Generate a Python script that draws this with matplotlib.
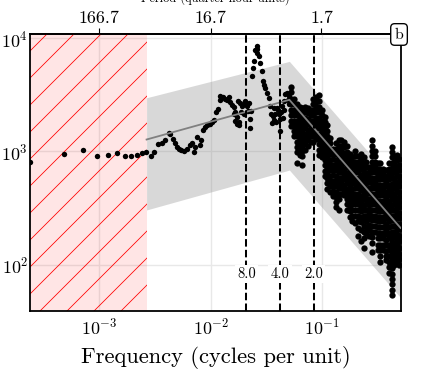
import numpy as np
import matplotlib.pyplot as plt
from matplotlib.ticker import NullLocator

plt.rcParams.update({
    'font.family': 'serif',
    'font.serif': ['cmr10'],
    'mathtext.fontset': 'cm',
    'axes.formatter.use_mathtext': True,
    'axes.unicode_minus': False,
    'hatch.linewidth': 0.35,
})

# periodogram, lowest frequencies (hatched region)
low_freq = [0.00024, 0.00048, 0.00072, 0.00096, 0.0012, 0.00144, 0.00168, 0.00192,
            0.00216, 0.0024, 0.00264, 0.00288, 0.00312, 0.00336]
low_power = [796, 935, 1015, 899, 917, 960, 899, 899, 917, 955, 975, 899, 975, 1145]

# middle frequencies
mid_freq = [0.00368, 0.00389, 0.00417, 0.00432, 0.00462, 0.00479, 0.00496, 0.0052, 0.00542,
            0.00569, 0.0061, 0.00644, 0.00676, 0.007, 0.00724, 0.0075, 0.00791, 0.0082,
            0.00842, 0.00891, 0.00923, 0.00953, 0.00988, 0.01023, 0.01073, 0.01119, 0.01148,
            0.01197, 0.01214, 0.01285, 0.01347, 0.01396, 0.01442, 0.01494, 0.01549, 0.016,
            0.016, 0.01656, 0.01656, 0.01716, 0.01716, 0.01738, 0.01774, 0.01799, 0.01837,
            0.01876, 0.01903, 0.01967, 0.01995, 0.02037, 0.02109, 0.02147, 0.02183, 0.02223,
            0.0226, 0.02291, 0.02339, 0.02371, 0.0242, 0.02506, 0.0257, 0.02594, 0.026,
            0.02685, 0.0278, 0.02878, 0.02917, 0.02972, 0.03083, 0.03191, 0.03296, 0.03367,
            0.03467, 0.0354, 0.036, 0.03656, 0.03715, 0.03793, 0.0387, 0.03926, 0.0399,
            0.04055, 0.0414, 0.04206, 0.04246, 0.04355, 0.04426, 0.04498, 0.0456, 0.04656,
            0.04831, 0.04909, 0.04989, 0.0506]
mid_power = [1183, 1248, 1448, 1429, 1292, 1169, 1091, 1042, 1020,
             1006, 1035, 1129, 1169, 986, 1091, 1335, 1129, 1248,
             1528, 1633, 1690, 1750, 1726, 1807, 1871, 2213, 2371,
             2800, 3097, 2994, 2897, 2800, 2994, 2704, 2533, 2449,
             2113, 2213, 1845, 2000, 1726, 2760, 1807, 1690, 2673,
             2198, 2496, 2582, 2113, 2760, 2496, 2244, 2673, 1592,
             1910, 2259, 4581, 5420, 6194, 7852, 7300, 8414, 8000,
             6855, 5998, 5058, 4140, 3873, 3622, 3273, 2958, 2496,
             2113, 1786, 2027, 2415, 1871, 2113, 1795, 2415, 2291,
             2113, 1507, 1910, 2198, 2496, 1945, 2760, 2291, 3162,
             3273, 2800, 3055, 2582]

# high frequencies: dense cloud, read column by column
dense_freq = [0.0525, 0.0556, 0.0589, 0.0624, 0.0661, 0.0700, 0.0741, 0.0785, 0.0832, 0.0881,
              0.0933, 0.0989, 0.1047, 0.1109, 0.1175, 0.1245, 0.1318, 0.1396, 0.1479, 0.1567,
              0.1660, 0.1758, 0.1862, 0.1972, 0.2089, 0.2213, 0.2344, 0.2483, 0.2630, 0.2786,
              0.2951, 0.3126, 0.3311, 0.3508, 0.3715, 0.3936, 0.4169, 0.4416, 0.4677, 0.4898]
dense_power = [
    [3700, 3300, 2900, 2600, 2300, 2070, 1860, 1670],
    [2900, 2600, 2300, 2070, 1860, 1670, 1500, 1350],
    [2600, 2300, 2070, 1860, 1670, 1500, 1350, 1210, 1090, 980, 790],
    [2450, 2200, 1970, 1770, 1590, 1420, 1280, 1150, 1030, 930],
    [2400, 2150, 1930, 1730, 1550, 1390, 1250, 1120, 1000, 900, 750],
    [2450, 2200, 1970, 1770, 1590, 1420, 1280, 1150, 1030],
    [2400, 2150, 1930, 1730, 1550, 1390, 1250, 1120],
    [2300, 2070, 1860, 1670, 1500, 1350, 1210],
    [2900, 2600, 2300, 2070, 1860, 1670, 1500, 1350, 1210],
    [3000, 2700, 2450, 2200, 1970, 1770, 1590, 1420, 1280],
    [3100, 2750, 2450, 2200, 1970, 1770, 1590, 1420, 1280, 1150, 1030, 930],
    [2300, 2070, 1860, 1670, 1500, 1350, 1210, 1090, 980, 880],
    [2000, 1800, 1600, 1450, 1300, 1170, 1050, 940, 840, 750, 670, 600],
    [1700, 1520, 1370, 1230, 1100, 990, 890, 800, 720, 650, 580, 520, 465],
    [1300, 1170, 1050, 940, 840, 760, 680, 610, 550, 490, 440],
    [1050, 940, 850, 760, 680, 615, 550, 495, 445, 400],
    [1170, 1050, 940, 840, 760, 680, 610, 550, 490, 440, 395, 355, 320],
    [1250, 1120, 1000, 900, 810, 730, 650, 585, 525, 470, 420, 380, 305],
    [1250, 1120, 1000, 900, 810, 730, 650, 585, 525, 470, 420],
    [1200, 1080, 970, 870, 780, 700, 630, 565, 505, 455, 410],
    [1100, 990, 890, 800, 720, 645, 580, 520, 465, 420, 375, 340, 300],
    [950, 850, 765, 690, 620, 555, 500, 450, 405, 365, 330, 295, 265],
    [890, 800, 720, 645, 580, 520, 465, 420, 375, 340, 300, 270, 240],
    [1000, 900, 810, 730, 650, 585, 525, 470, 420, 380, 340, 305, 270, 232],
    [900, 810, 730, 650, 585, 525, 470, 420, 380, 340, 305, 270, 240, 210, 180],
    [950, 850, 765, 690, 620, 555, 500, 450, 405, 365, 330, 295, 265, 235, 200, 160],
    [880, 790, 710, 640, 575, 515, 465, 415, 375, 335, 300, 270, 245, 220, 195, 170, 140],
    [800, 720, 645, 580, 520, 465, 420, 375, 340, 300, 270, 240, 215, 190],
    [730, 655, 590, 530, 475, 425, 380, 345, 310, 280, 250, 225, 200, 180],
    [1250, 1120, 1000, 900, 810, 730, 650, 585, 525, 470, 420, 380, 340, 305, 270, 245,
     220, 195, 175, 155, 130],
    [1000, 900, 810, 730, 650, 585, 525, 470, 420, 380, 340, 305, 270, 245, 220, 195],
    [780, 700, 630, 565, 505, 455, 410, 365, 330, 295, 265, 240, 215, 190, 170, 150, 135],
    [780, 700, 630, 565, 505, 455, 410, 365, 330, 295, 265, 240, 215, 190, 170, 150, 135,
     120, 105],
    [700, 630, 565, 505, 455, 410, 365, 330, 295, 265, 240, 215, 190, 170, 150, 135],
    [680, 610, 550, 490, 440, 395, 355, 320, 285, 255, 230, 205, 185, 165, 148, 132, 118, 110],
    [780, 700, 630, 565, 505, 455, 410, 365, 330, 295, 265, 240, 215, 190, 170, 150, 135,
     120, 105, 95, 85],
    [1090, 980, 880, 790, 710, 640, 575, 515, 465, 415, 375, 335, 300, 270, 245, 220, 195,
     175, 158, 142, 128, 115, 103, 93, 83, 75, 67, 60, 54],
    [900, 810, 730, 650, 585, 525, 470, 420, 380, 340, 305, 270, 245, 220, 195, 175, 155,
     140, 125, 112, 100],
    [920, 830, 745, 670, 600, 540, 485, 435, 390, 350, 315, 285, 255, 230, 205, 185, 165,
     148, 132, 118, 106],
    [850, 760, 680, 610, 550, 490, 440, 395, 355, 320, 285, 255, 230, 205, 180, 160, 140,
     125, 112, 100],
]

# broken power-law fit and its band
band_freq = [0.00265, 0.0506, 0.503]
fit_power = [1267, 2838, 210]
band_upper = [2960, 6195, 464]
band_lower = [303, 681, 51]

excluded = [2.4e-4, 0.00265]
marked_periods = [8.0, 4.0, 2.0]
period_ticks = [166.7, 16.7, 1.7]

dense_x = np.repeat(dense_freq, [len(c) for c in dense_power])
dense_y = np.concatenate(dense_power)
sparse_x = np.concatenate([low_freq, mid_freq])
sparse_y = np.concatenate([low_power, mid_power])

fig = plt.figure(figsize=(2.75, 2.36), dpi=162)
ax = fig.add_axes([0.068, 0.186, 0.831, 0.723])

ax.axvspan(excluded[0], excluded[1], facecolor=(1, 0, 0, 0.1), edgecolor='red',
           hatch='//', lw=0, zorder=1)
ax.fill_between(band_freq, band_lower, band_upper, color='0.5', alpha=0.3, lw=0, zorder=1)
ax.plot(sparse_x, sparse_y, 'o', color='k', ms=2.4, mew=0, zorder=3)
# overlapping points in the dense part merge into one mass
ax.plot(dense_x, dense_y, 'o', color='k', ms=2.8, mew=0, zorder=3)
ax.plot(band_freq, fit_power, color='0.5', lw=0.8, zorder=4)

for p in marked_periods:
    f = 1 / (6 * p)
    ax.axvline(f, color='k', ls='--', lw=0.9, zorder=5)
    ax.text(f, 83, f'{p:.1f}', fontsize=6.5, ha='center', va='center', zorder=6,
            bbox=dict(fc='white', ec='none', pad=1.0))

ax.set_xscale('log')
ax.set_yscale('log')
ax.set_xlim(2.4e-4, 0.502)
ax.set_ylim(39, 10700)
ax.set_xticks([1e-3, 1e-2, 1e-1])
ax.set_yticks([1e2, 1e3, 1e4])
ax.xaxis.set_minor_locator(NullLocator())
ax.yaxis.set_minor_locator(NullLocator())
ax.tick_params(length=0, labelsize=8, pad=2.5)
ax.tick_params(axis='y', pad=1)
ax.grid(True, color='#e8e8e8', lw=0.6)
ax.set_axisbelow(True)
for s in ax.spines.values():
    s.set_linewidth(0.8)
ax.set_xlabel('Frequency (cycles per unit)', fontsize=10, labelpad=4)

secax = ax.secondary_xaxis('top', functions=(lambda f: 1 / (6 * f), lambda p: 1 / (6 * p)))
secax.set_xticks(period_ticks, labels=[f'{p:.1f}' for p in period_ticks])
secax.xaxis.set_minor_locator(NullLocator())
secax.tick_params(length=2.5, width=0.5, labelsize=8, pad=1.5)
secax.set_xlabel('Period (quarter-hour units)', fontsize=5.5, labelpad=4)

ax.text(0.996, 1.0, 'b', transform=ax.transAxes, ha='center', va='center', fontsize=7,
        zorder=10, bbox=dict(boxstyle='round,pad=0.25', fc='white', ec='k', lw=0.6))

fig.savefig('out.png', dpi=162)
